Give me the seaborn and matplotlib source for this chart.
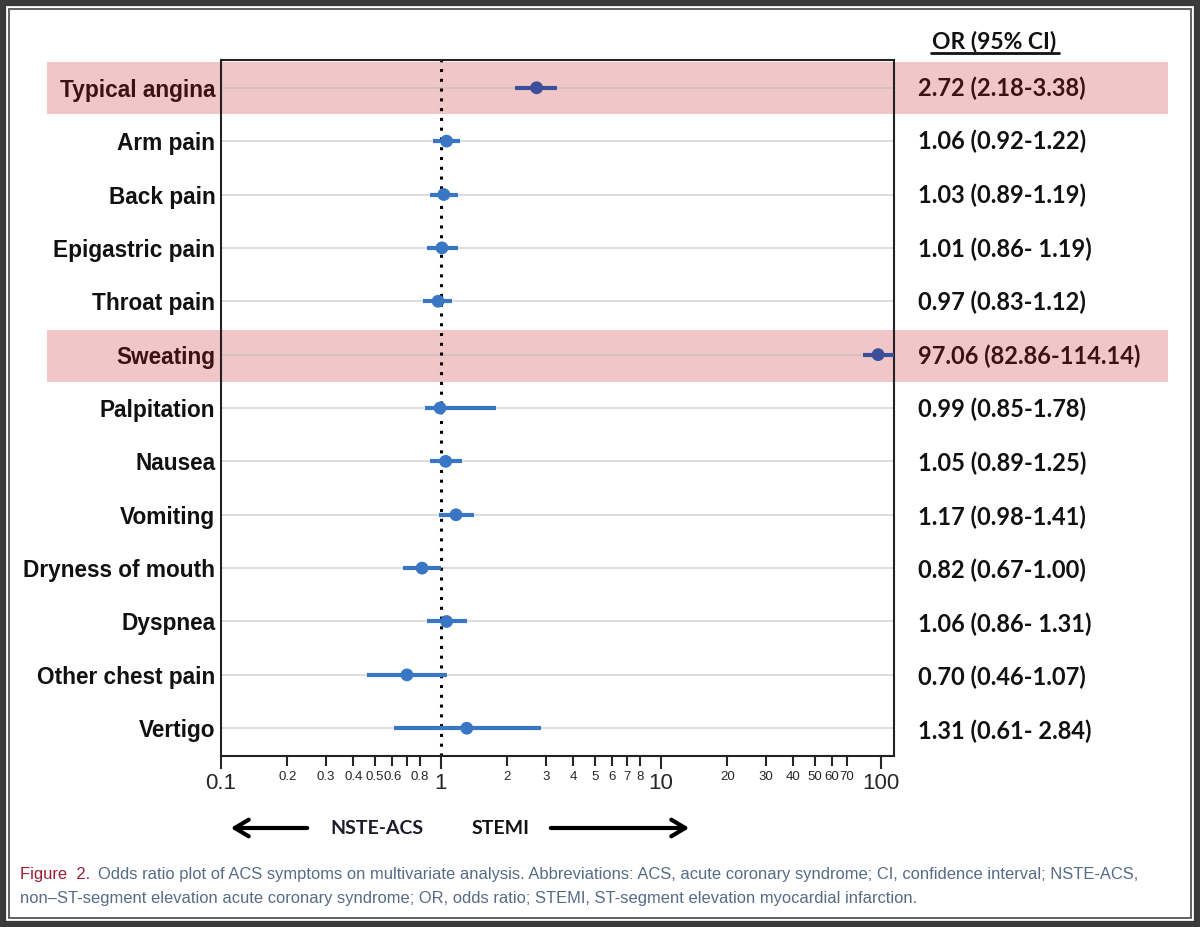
import numpy as np
import pandas as pd
import matplotlib
matplotlib.use('Agg')
import matplotlib.pyplot as plt
import seaborn as sns
from matplotlib.patches import Rectangle, FancyArrowPatch
from matplotlib.lines import Line2D

# data
symptoms = ['Typical angina', 'Arm pain', 'Back pain', 'Epigastric pain', 'Throat pain',
            'Sweating', 'Palpitation', 'Nausea', 'Vomiting', 'Dryness of mouth',
            'Dyspnea', 'Other chest pain', 'Vertigo']
odds = [2.72, 1.06, 1.03, 1.01, 0.97, 97.06, 0.99, 1.05, 1.17, 0.82, 1.06, 0.70, 1.31]
ci_low = [2.18, 0.92, 0.89, 0.86, 0.83, 82.86, 0.85, 0.89, 0.98, 0.67, 0.86, 0.46, 0.61]
ci_high = [3.38, 1.22, 1.19, 1.19, 1.12, 114.14, 1.78, 1.25, 1.41, 1.00, 1.31, 1.07, 2.84]
or_text = ['2.72 (2.18-3.38)', '1.06 (0.92-1.22)', '1.03 (0.89-1.19)', '1.01 (0.86- 1.19)',
           '0.97 (0.83-1.12)', '97.06 (82.86-114.14)', '0.99 (0.85-1.78)', '1.05 (0.89-1.25)',
           '1.17 (0.98-1.41)', '0.82 (0.67-1.00)', '1.06 (0.86- 1.31)', '0.70 (0.46-1.07)',
           '1.31 (0.61- 2.84)']
highlight = ['Typical angina', 'Sweating']
major_ticks = [0.1, 1, 10, 100]
minor_ticks = [0.2, 0.3, 0.4, 0.5, 0.6, 0.7, 0.8, 2, 3, 4, 5, 6, 7, 8, 20, 30, 40, 50, 60, 70]
minor_labels = ['0.2', '0.3', '0.4', '0.5', '0.6', '', '0.8', '2', '3', '4', '5', '6', '7', '8',
                '20', '30', '40', '50', '60', '70']
caption_1 = ('Odds ratio plot of ACS symptoms on multivariate analysis. Abbreviations: ACS, acute '
             'coronary syndrome; CI, confidence interval; NSTE-ACS,')
caption_2 = ('non\u2013ST-segment elevation acute coronary syndrome; OR, odds ratio; STEMI, '
             'ST-segment elevation myocardial infarction.')

df = pd.DataFrame({'symptom': symptoms, 'OR': odds, 'lo': ci_low, 'hi': ci_high})
df['pos'] = np.arange(len(df))
df['hl'] = df['symptom'].isin(highlight)

sns.set_style('white')
fig = plt.figure(figsize=(12, 9.27), dpi=100)
W, H = 1200, 927
ax = fig.add_axes([221 / W, 1 - 756 / H, (894 - 221) / W, (756 - 60) / H])
ax.set_facecolor('none')

ax.set_xscale('log')
ax.set_xlim(0.1, 114.6)
ax.set_ylim(12.52, -0.52)

# light horizontal guide lines
for p in df['pos']:
    ax.axhline(p, color='#bdbdbd', lw=1.2, alpha=0.6, zorder=1)

ax.axvline(1, color='black', lw=2.2, ls=(0, (1, 2.2)), zorder=2)

col_norm = '#3a76c6'
col_hl = '#3b4f9a'
for _, r in df.iterrows():
    c = col_hl if r['hl'] else col_norm
    ax.hlines(r['pos'], r['lo'], r['hi'], color=c, lw=3, zorder=3)
sns.scatterplot(data=df, x='OR', y='pos', hue='hl', palette={False: col_norm, True: col_hl},
                s=85, edgecolor='none', legend=False, ax=ax, zorder=4)

ax.set_xlabel('')
ax.set_ylabel('')
ax.set_yticks(df['pos'])
ax.set_yticklabels(symptoms, fontsize=16.3, fontweight='bold', family='Liberation Sans')
for lab, h in zip(ax.get_yticklabels(), df['hl']):
    lab.set_color('#3a1214' if h else '#111111')
ax.tick_params(axis='y', length=0, pad=4)

ax.set_xticks(major_ticks)
ax.set_xticklabels(['0.1', '1', '10', '100'], fontsize=16, family='Liberation Sans')
ax.set_xticks(minor_ticks, minor=True)
ax.set_xticklabels(minor_labels, minor=True, fontsize=9.5, family='Liberation Sans')
ax.tick_params(axis='x', which='major', length=9, width=1.5, direction='out', pad=3, bottom=True)
ax.tick_params(axis='x', which='minor', length=7, width=1.5, direction='out', pad=4, bottom=True)
for s in ax.spines.values():
    s.set_color('#222222')
    s.set_linewidth(1.5)

# pink highlight bands behind highlighted rows
for p in df.loc[df['hl'], 'pos']:
    yc = 88 + p * 53.6
    fig.patches.append(Rectangle((47 / W, 1 - (yc + 26) / H), (1168 - 47) / W, 52 / H,
                                 transform=fig.transFigure, facecolor='#f0c6c6',
                                 edgecolor='none', zorder=-5))

# OR column on the right
fig.text(932 / W, 1 - 42 / H, 'OR (95% CI)', fontsize=16.5, fontweight='bold', family='Lato',
         color='#111111', va='center', ha='left')
fig.add_artist(Line2D([931 / W, 1059 / W], [1 - 53 / H, 1 - 53 / H], color='#111111', lw=2))
for i, t in enumerate(or_text):
    yc = 88 + i * 53.6
    fig.text(918 / W, 1 - yc / H, t, fontsize=17, fontweight='bold', family='Lato',
             color='#3a1214' if df['hl'][i] else '#111111', va='center', ha='left')

# direction arrows
ya = 1 - 828 / H
fig.add_artist(FancyArrowPatch((310 / W, ya), (228 / W, ya), transform=fig.transFigure,
                               arrowstyle='->,head_length=10,head_width=6', lw=3, color='black'))
fig.add_artist(FancyArrowPatch((548 / W, ya), (692 / W, ya), transform=fig.transFigure,
                               arrowstyle='->,head_length=10,head_width=6', lw=3, color='black'))
fig.text(330 / W, ya, 'NSTE-ACS', fontsize=14, fontweight='bold', family='Lato',
         color='#1a1a2a', va='center', ha='left')
fig.text(472 / W, ya, 'STEMI', fontsize=14, fontweight='bold', family='Lato',
         color='#111111', va='center', ha='left')

# caption, sized so the first line spans the same width as in the reference
renderer = fig.canvas.get_renderer()
cap_font = 'Liberation Sans'
t_fig = fig.text(20 / W, 1 - 874 / H, 'Figure  2.', fontsize=12, family=cap_font,
                 color='#9b1b35', va='center', ha='left')
t_c1 = fig.text(0, 1 - 874 / H, caption_1, fontsize=12, family=cap_font,
                color='#566b86', va='center', ha='left')
w_fig = t_fig.get_window_extent(renderer).width
w_c1 = t_c1.get_window_extent(renderer).width
scale = (1137 - 20) / (w_fig + 8 + w_c1)
fs = 12 * scale
t_fig.set_fontsize(fs)
t_c1.set_fontsize(fs)
w_fig = t_fig.get_window_extent(renderer).width
t_c1.set_x((20 + w_fig + 8 * scale) / W)
fig.text(20 / W, 1 - 898 / H, caption_2, fontsize=fs, family=cap_font,
         color='#566b86', va='center', ha='left')

# double frame around the figure
fig.patches.append(Rectangle((3 / W, 3 / H), (W - 6) / W, (H - 6) / H, transform=fig.transFigure,
                             fill=False, edgecolor='#3a3a3a', lw=4.5, zorder=10))
fig.patches.append(Rectangle((9 / W, 9 / H), (W - 18) / W, (H - 18) / H, transform=fig.transFigure,
                             fill=False, edgecolor='#555555', lw=1.3, zorder=10))

fig.savefig('out.png', dpi=100)
